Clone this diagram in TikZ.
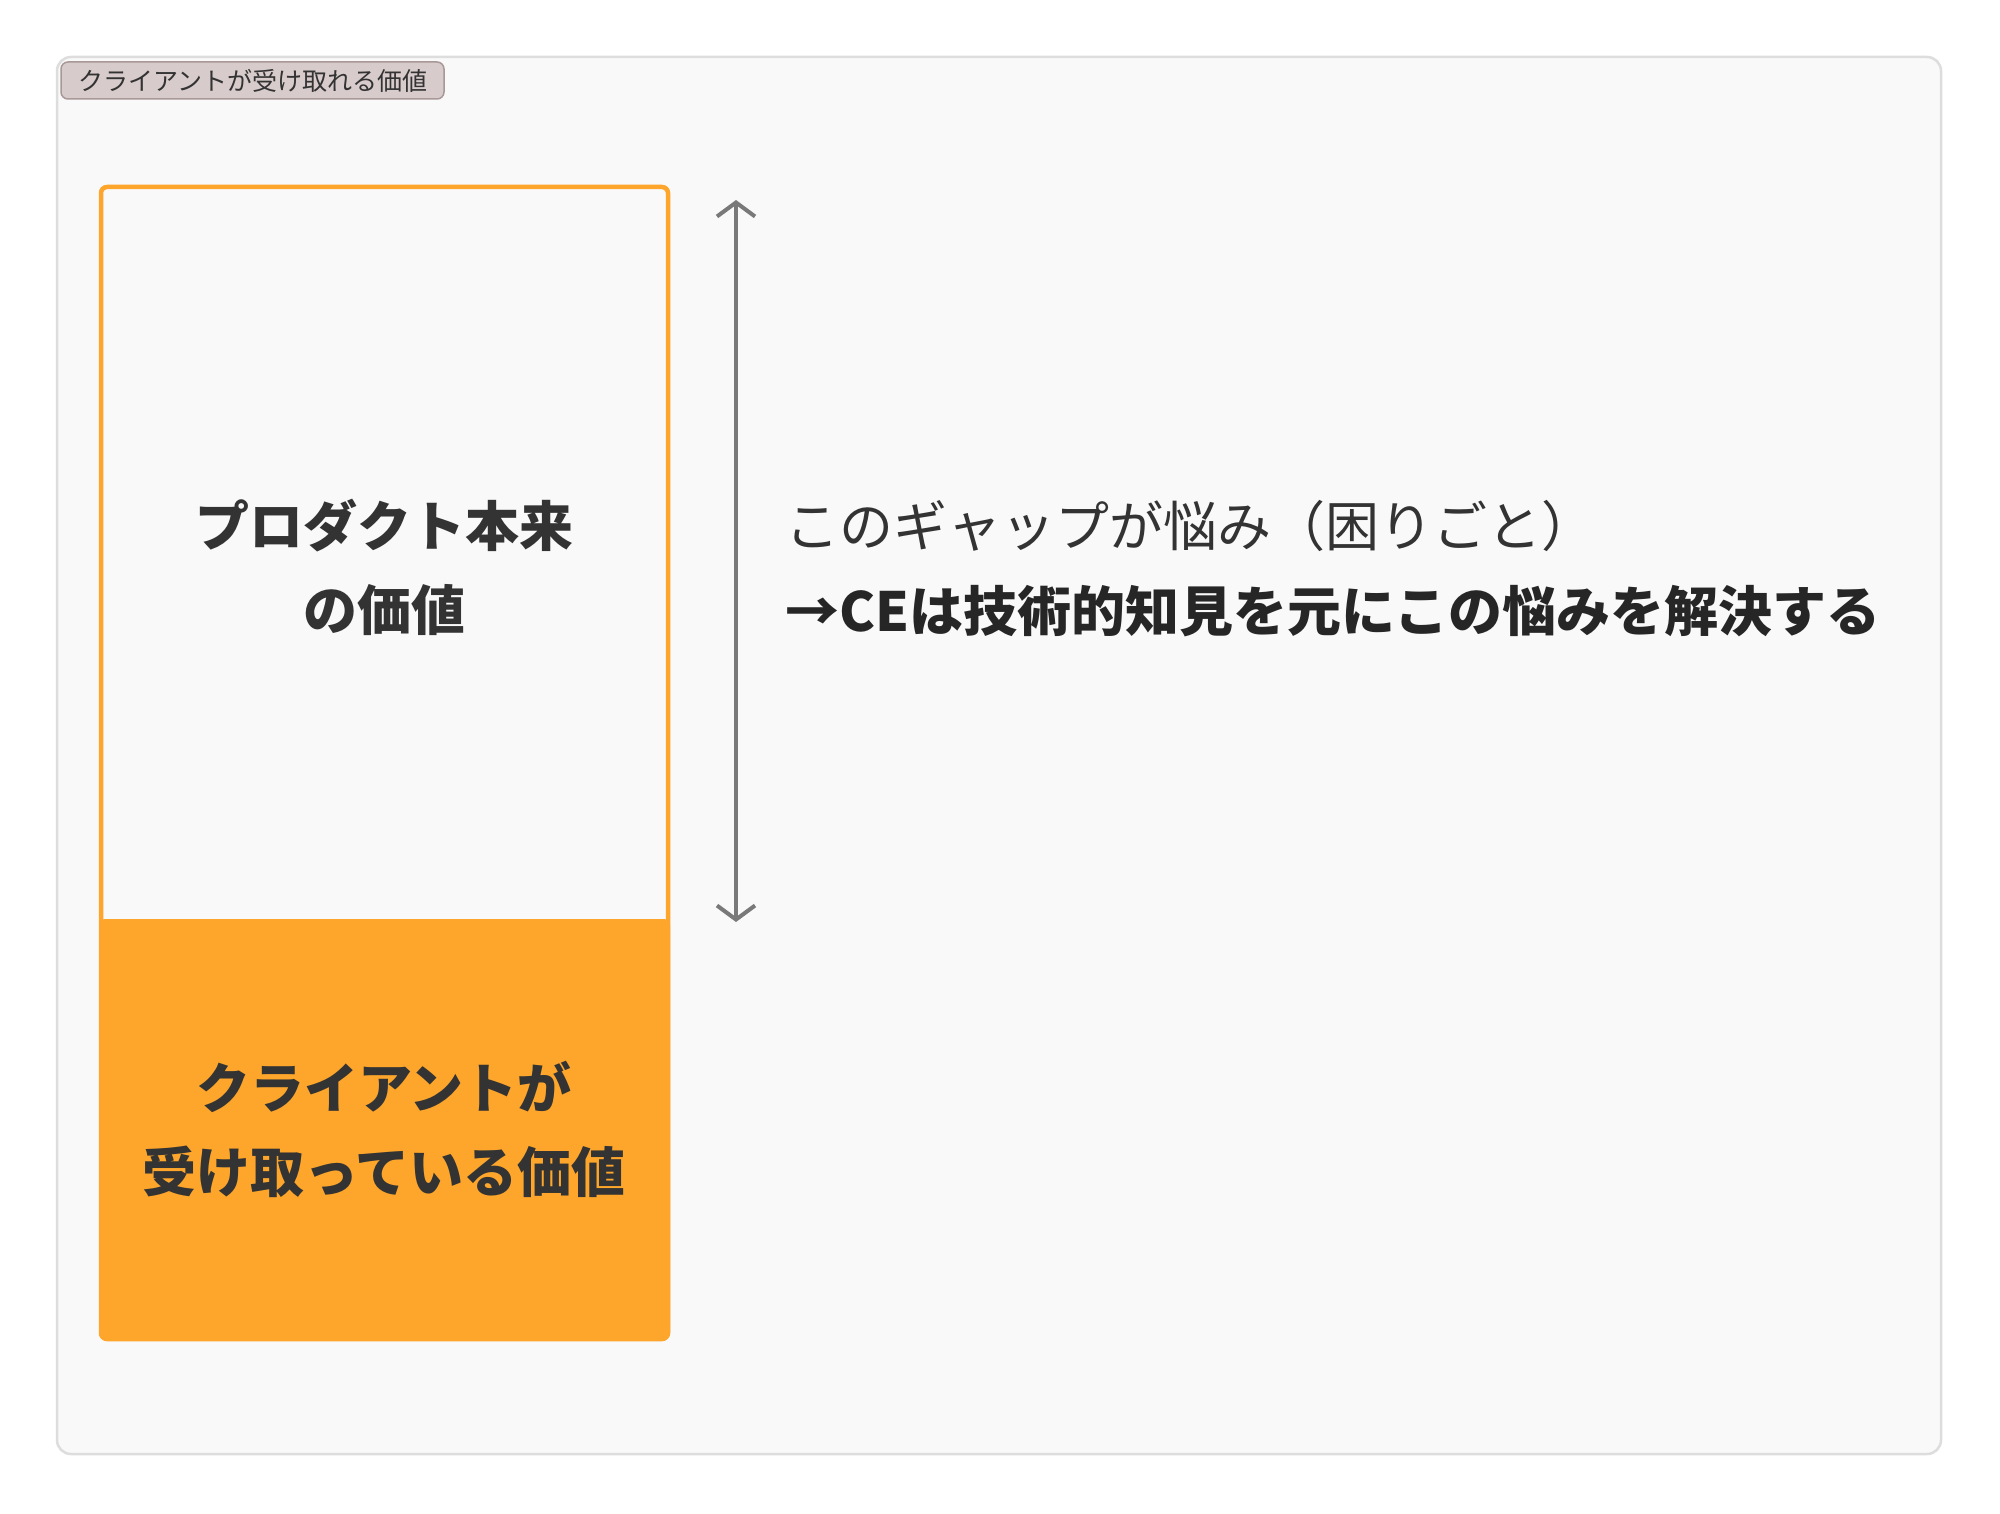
\documentclass[tikz,border=0pt]{standalone}
\usepackage{fontspec}
\setmainfont{Noto Sans CJK JP}
\usetikzlibrary{arrows.meta}
\definecolor{org}{HTML}{FDA62B}
\definecolor{bg}{HTML}{F9F9F9}
\definecolor{frm}{HTML}{DDDDDD}
\definecolor{tabf}{HTML}{D8CBCB}
\definecolor{tabd}{HTML}{A89898}
\definecolor{txt}{HTML}{333333}
\begin{document}
\begin{tikzpicture}[x=1pt,y=-1pt,
  big/.style={font=\fontsize{54}{84}\selectfont\bfseries, text=txt, align=center}]
\useasboundingbox[fill=white] (0,0) rectangle (2000,1514);
\node[draw=frm, line width=2.5pt, fill=bg, rounded corners=14pt, minimum width=1884pt, minimum height=1397pt, inner sep=0pt] (frame) at (999,755.5) {};
\node[draw=tabd, line width=1.5pt, fill=tabf, rounded corners=7pt, minimum width=383pt, minimum height=37pt, inner sep=0pt, font=\fontsize{25}{30}\selectfont, text=txt] (tab) at (252.5,80.5) {クライアントが受け取れる価値};
\node[draw=org, line width=4.5pt, fill=bg, rounded corners=6pt, minimum width=567pt, minimum height=1152pt, inner sep=0pt] (box) at (384.5,763) {};
\node[fill=org, rounded corners=6pt, minimum width=571pt, minimum height=420pt, inner sep=0pt] (fill) at (384.5,1129) {};
\fill[org] (99,921) rectangle (670,940);
\node[big] (t1) at (384,567) {プロダクト本来\\の価値};
\node[big] (t2) at (384,1129) {クライアントが\\受け取っている価値};
\coordinate (a1) at (736,200);
\coordinate (a2) at (736,922);
\draw[{Straight Barb[length=14pt,width=38pt,line width=4pt]}-{Straight Barb[length=14pt,width=38pt,line width=4pt]}, line width=4pt, color=gray!95!black] (a1) -- (a2);
\node[anchor=west, font=\fontsize{54}{84}\selectfont, text=txt, inner sep=0pt] (g1) at (785,526) {このギャップが悩み（困りごと）};
\node[anchor=west, font=\fontsize{54}{84}\selectfont\bfseries, text=black!85, inner sep=0pt] (g2) at (785,611) {→CEは技術的知見を元にこの悩みを解決する};
\end{tikzpicture}
\end{document}
